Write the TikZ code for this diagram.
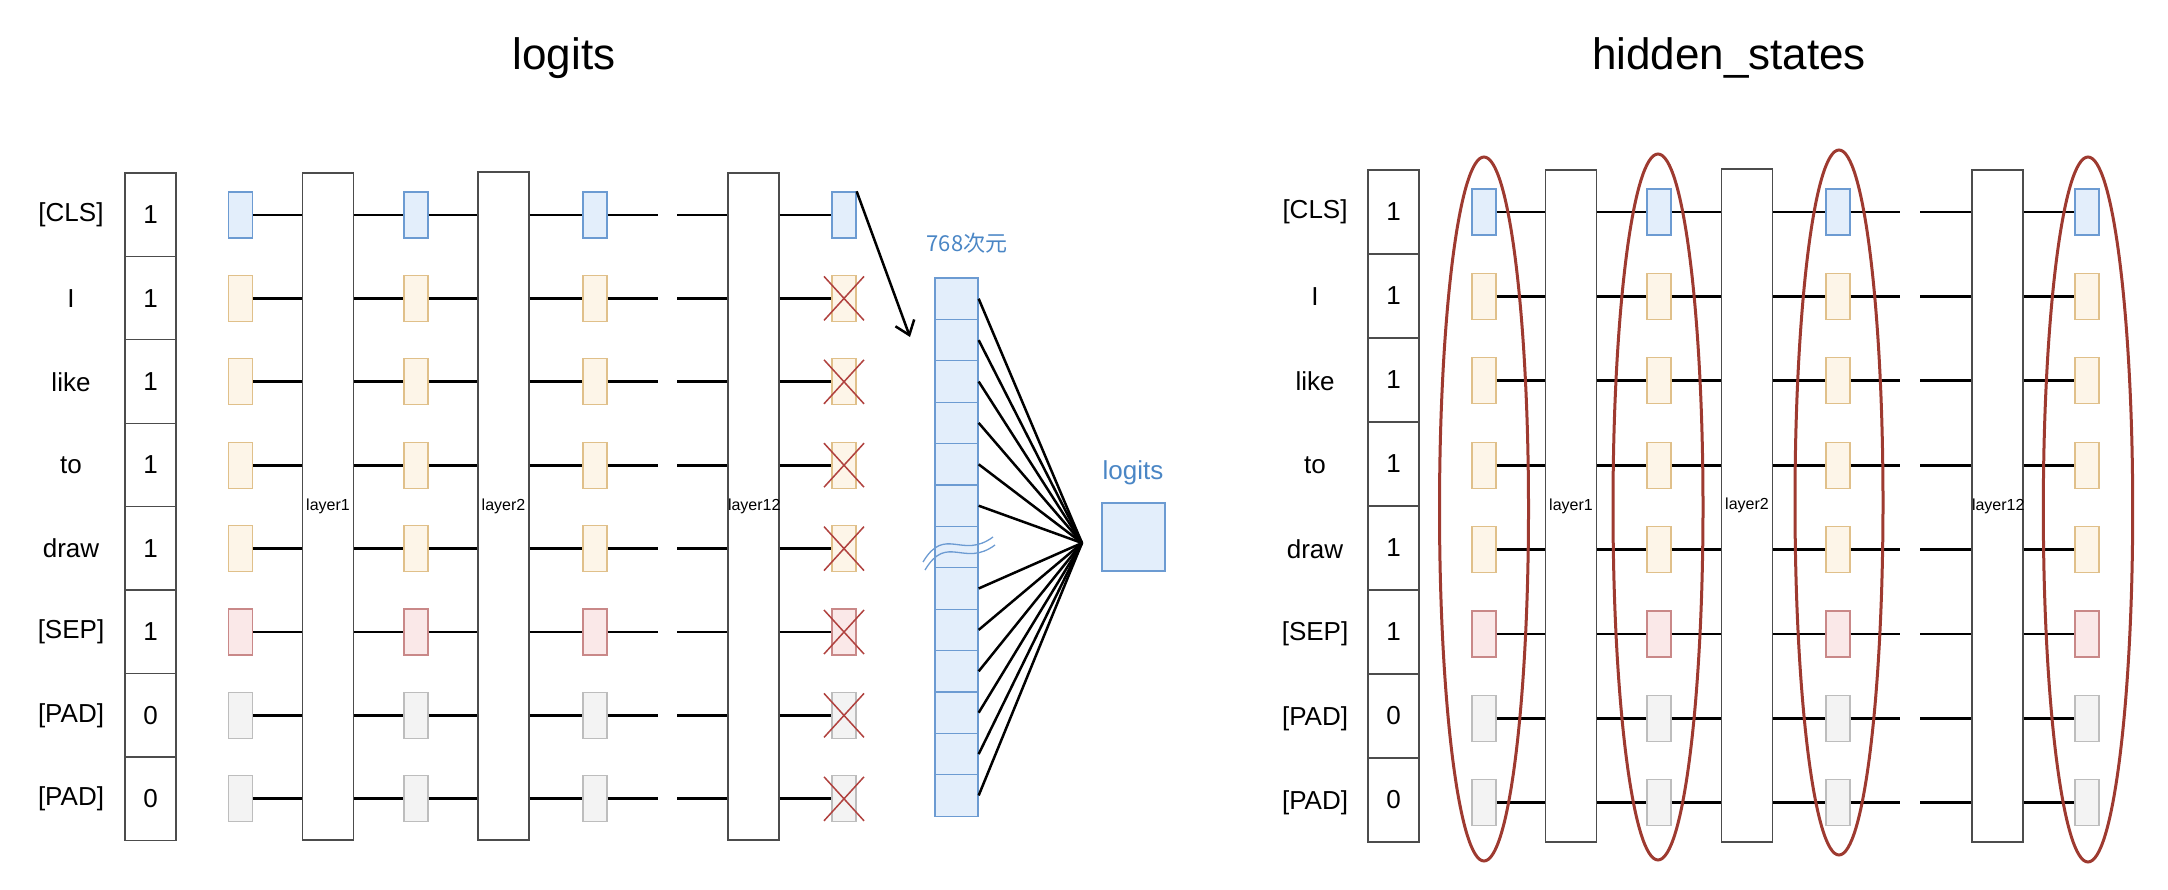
\documentclass[tikz,border=0pt]{standalone}
\usepackage{fontspec}
\setmainfont{Liberation Sans}
\newfontfamily\cjk{Noto Sans CJK JP}
\usetikzlibrary{arrows.meta}
\definecolor{bfill}{HTML}{E3EEFB}\definecolor{bdraw}{HTML}{6C9BD2}
\definecolor{ofill}{HTML}{FDF5E8}\definecolor{odraw}{HTML}{E0C08A}
\definecolor{pfill}{HTML}{FAE8E8}\definecolor{pdraw}{HTML}{C98888}
\definecolor{gfill}{HTML}{F3F3F3}\definecolor{gdraw}{HTML}{BDBDBD}
\definecolor{ered}{HTML}{9E3A30}\definecolor{xred}{HTML}{B0413E}
\definecolor{txtblue}{HTML}{4A86C5}
\tikzset{
 tok/.style={draw=black!70,line width=1.3pt,minimum width=51pt,minimum height=83.5pt,inner sep=0pt,font=\fontsize{26}{26}\selectfont},
 lay/.style={draw=black!70,line width=1.3pt,fill=white,minimum width=51pt,text width=51pt,align=center,inner sep=0pt,font=\fontsize{16}{16}\selectfont},
 lab/.style={font=\fontsize{26}{26}\selectfont},
 hs/.style={draw=#1draw,fill=#1fill,line width=1.3pt,minimum width=24pt,minimum height=46pt,inner sep=0pt},
 con/.style={line width=2.8pt,black},
 ell/.style={draw=ered,line width=3pt},
 cross/.style={xred,line width=1.5pt},
 vcell/.style={draw=bdraw,fill=bfill,line width=1.3pt,minimum width=43pt,minimum height=41.4pt,inner sep=0pt},
}
\begin{document}
\begin{tikzpicture}[x=1pt,y=-1pt]
\useasboundingbox (0,0) rectangle (2168,890);
\node[font=\fontsize{44}{44}\selectfont] (t1) at (564,58) {logits};
\node[font=\fontsize{44}{44}\selectfont] (t2) at (1729,58) {hidden\_states};
\def\words{{"[CLS]","I","like","to","draw","[SEP]","[PAD]","[PAD]"}}
\def\masks{{"1","1","1","1","1","1","0","0"}}
\def\cols{{"b","o","o","o","o","p","g","g"}}
% ---------- LEFT PANEL ----------
\node[lay,minimum height=667pt] (L1) at (328,506.5) {layer1};
\node[lay,minimum height=668pt] (L2) at (503.5,506) {layer2};
\node[lay,minimum height=667pt] (L12) at (753.5,506.5) {layer12};
\foreach \i in {0,...,7}{
  \pgfmathsetmacro\y{215+83.4*\i}
  \pgfmathsetmacro\w{\words[\i]}\pgfmathsetmacro\m{\masks[\i]}\pgfmathsetmacro\c{\cols[\i]}
  \node[tok] (m\i) at (150.5,{173+41.7+83.4*\i}) {\m};
  \node[lab] (w\i) at (71,\y) {\w};
  \node[hs=\c] (a\i) at (240.5,\y) {};
  \node[hs=\c] (b\i) at (416,\y) {};
  \node[hs=\c] (c\i) at (595,\y) {};
  \node[hs=\c] (d\i) at (844,\y) {};
  \coordinate (e\i) at (658,\y); \coordinate (f\i) at (677,\y);
  \draw[con] (a\i.east) -- (a\i.east-|L1.west);
  \draw[con] (b\i.west-|L1.east) -- (b\i.west);
  \draw[con] (b\i.east) -- (b\i.east-|L2.west);
  \draw[con] (c\i.west-|L2.east) -- (c\i.west);
  \draw[con] (c\i.east) -- (e\i);
  \draw[con] (f\i) -- (f\i-|L12.west);
  \draw[con] (d\i.west-|L12.east) -- (d\i.west);
}
\foreach \i in {1,...,7}{
  \draw[cross] ([xshift=-20pt,yshift=22pt]d\i.center) -- ([xshift=20pt,yshift=-22pt]d\i.center);
  \draw[cross] ([xshift=-20pt,yshift=-22pt]d\i.center) -- ([xshift=20pt,yshift=22pt]d\i.center);
}
% vector
\foreach \k in {0,...,12}{
  \node[vcell] (v\k) at (956.5,{278+20.7+41.4*\k}) {};
}
\node[font=\cjk\fontsize{22}{22}\selectfont,text=txtblue] (vl) at (967,243) {768次元};
\coordinate (hub) at (1082,543);
\foreach \k in {0,1,2,3,4,5,7,8,9,10,11,12}{
  \draw[line width=2.5pt] (v\k.east) -- (hub);
}
\draw[bdraw,line width=1.3pt] (923,562) .. controls (945,525) and (962,560) .. (993,537);
\draw[bdraw,line width=1.3pt] (925,570) .. controls (947,533) and (964,568) .. (995,545);
\draw[line width=2.5pt,-{Straight Barb[length=13pt,width=20pt,line width=2.5pt]}] (d0.north east) -- (910,337);
\node[draw=bdraw,fill=bfill,line width=1.3pt,minimum width=63pt,minimum height=68pt,inner sep=0pt] (lg) at (1133.5,537) {};
\node[font=\fontsize{26}{26}\selectfont,text=txtblue] (lgl) at (1133,473) {logits};
% ---------- RIGHT PANEL ----------
\node[lay,minimum height=672pt] (R1) at (1571,506) {layer1};
\node[lay,minimum height=673pt] (R2) at (1747,505.5) {layer2};
\node[lay,minimum height=672pt] (R12) at (1997.5,506) {layer12};
\foreach \i in {0,...,7}{
  \pgfmathsetmacro\y{212+84.4*\i}
  \pgfmathsetmacro\w{\words[\i]}\pgfmathsetmacro\m{\masks[\i]}\pgfmathsetmacro\c{\cols[\i]}
  \node[tok,minimum height=84pt] (rm\i) at (1393.5,{170+42+84*\i}) {\m};
  \node[lab] (rw\i) at (1315,\y) {\w};
  \node[hs=\c] (ra\i) at (1484,\y) {};
  \node[hs=\c] (rb\i) at (1659,\y) {};
  \node[hs=\c] (rc\i) at (1838,\y) {};
  \node[hs=\c] (rd\i) at (2087,\y) {};
  \coordinate (re\i) at (1900,\y); \coordinate (rf\i) at (1920,\y);
  \draw[con] (ra\i.east) -- (ra\i.east-|R1.west);
  \draw[con] (rb\i.west-|R1.east) -- (rb\i.west);
  \draw[con] (rb\i.east) -- (rb\i.east-|R2.west);
  \draw[con] (rc\i.west-|R2.east) -- (rc\i.west);
  \draw[con] (rc\i.east) -- (re\i);
  \draw[con] (rf\i) -- (rf\i-|R12.west);
  \draw[con] (rd\i.west-|R12.east) -- (rd\i.west);
}
\draw[ell] (1484,509) ellipse [x radius=44.5, y radius=352];
\draw[ell] (1658,507) ellipse [x radius=45, y radius=353];
\draw[ell] (1839,502.5) ellipse [x radius=44, y radius=352.5];
\draw[ell] (2088,509.5) ellipse [x radius=44.7, y radius=352.5];
\end{tikzpicture}
\end{document}
